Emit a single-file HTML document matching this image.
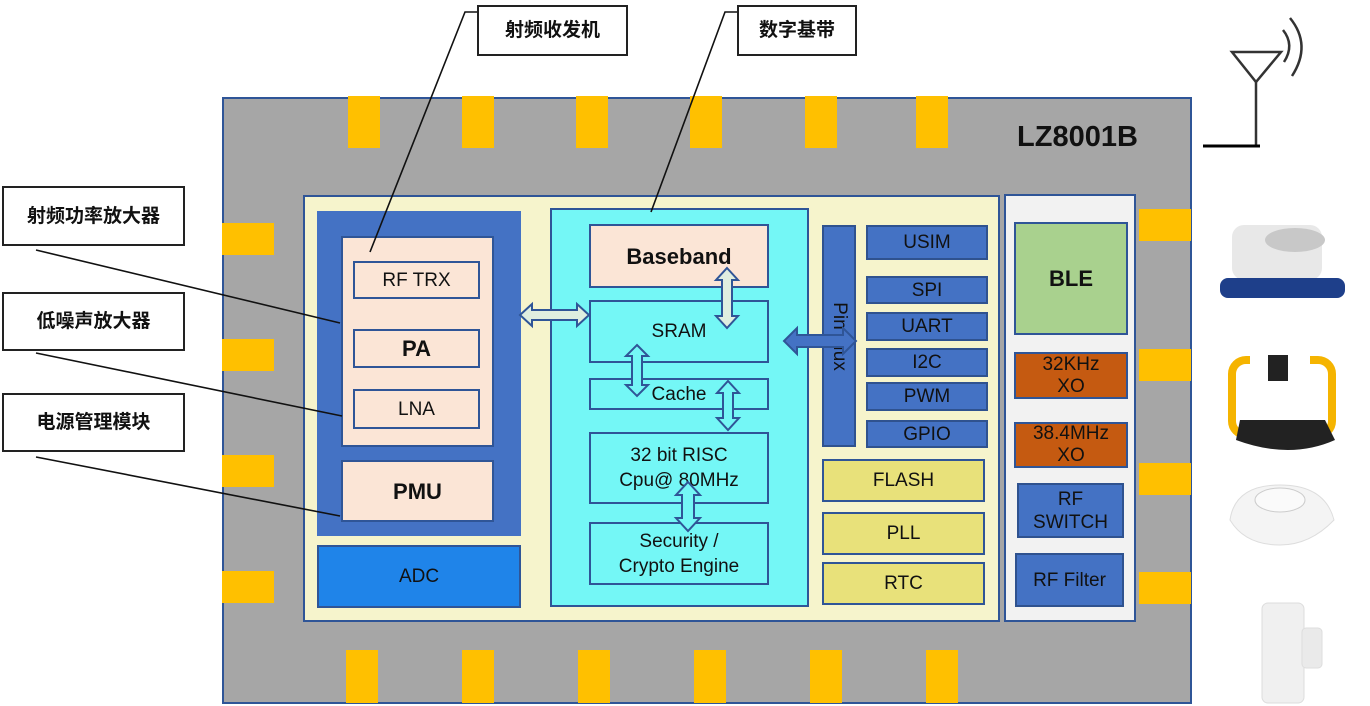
<!DOCTYPE html><html><head><meta charset="utf-8"><style>
body{margin:0;width:1370px;height:706px;background:#fff;position:relative;overflow:hidden;font-family:"Liberation Sans","Noto Sans CJK SC",sans-serif}
.b{position:absolute;box-sizing:border-box;display:flex;align-items:center;justify-content:center;text-align:center;color:#111;font-size:19px;line-height:25px}
.p{position:absolute;background:#ffc000}
.bl{background:#4472c4;border:2px solid #2f528f}
.lb{background:#fff;border:2px solid #222;font-weight:bold;font-size:19px}
</style></head><body>
<div class="b" style="left:222px;top:97px;width:970px;height:607px;background:#a6a6a6;border:2px solid #2f5597"></div>
<div class="p" style="left:348px;top:96px;width:32px;height:52px"></div>
<div class="p" style="left:462px;top:96px;width:32px;height:52px"></div>
<div class="p" style="left:576px;top:96px;width:32px;height:52px"></div>
<div class="p" style="left:690px;top:96px;width:32px;height:52px"></div>
<div class="p" style="left:805px;top:96px;width:32px;height:52px"></div>
<div class="p" style="left:916px;top:96px;width:32px;height:52px"></div>
<div class="p" style="left:346px;top:650px;width:32px;height:53px"></div>
<div class="p" style="left:462px;top:650px;width:32px;height:53px"></div>
<div class="p" style="left:578px;top:650px;width:32px;height:53px"></div>
<div class="p" style="left:694px;top:650px;width:32px;height:53px"></div>
<div class="p" style="left:810px;top:650px;width:32px;height:53px"></div>
<div class="p" style="left:926px;top:650px;width:32px;height:53px"></div>
<div class="p" style="left:222px;top:223px;width:52px;height:32px"></div>
<div class="p" style="left:222px;top:339px;width:52px;height:32px"></div>
<div class="p" style="left:222px;top:455px;width:52px;height:32px"></div>
<div class="p" style="left:222px;top:571px;width:52px;height:32px"></div>
<div class="p" style="left:1139px;top:209px;width:52px;height:32px"></div>
<div class="p" style="left:1139px;top:349px;width:52px;height:32px"></div>
<div class="p" style="left:1139px;top:463px;width:52px;height:32px"></div>
<div class="p" style="left:1139px;top:572px;width:52px;height:32px"></div>
<div class="b" style="left:1005px;top:118px;width:145px;height:38px;font-size:29px;font-weight:bold">LZ8001B</div>
<div class="b" style="left:303px;top:195px;width:697px;height:427px;background:#f6f4cc;border:2px solid #2f5597"></div>
<div class="b" style="left:1004px;top:194px;width:132px;height:428px;background:#f2f2f2;border:2px solid #2f5597"></div>
<div class="b bl" style="left:317px;top:211px;width:204px;height:325px;border:none"></div>
<div class="b" style="left:341px;top:236px;width:153px;height:211px;background:#fbe5d6;border:2px solid #2f5597"></div>
<div class="b" style="left:353px;top:261px;width:127px;height:38px;background:#fbe5d6;border:2px solid #2f5597">RF TRX</div>
<div class="b" style="left:353px;top:329px;width:127px;height:39px;background:#fbe5d6;border:2px solid #2f5597;font-weight:bold;font-size:22px">PA</div>
<div class="b" style="left:353px;top:389px;width:127px;height:40px;background:#fbe5d6;border:2px solid #2f5597">LNA</div>
<div class="b" style="left:341px;top:460px;width:153px;height:62px;background:#fbe5d6;border:2px solid #2f5597;font-weight:bold;font-size:22px">PMU</div>
<div class="b" style="left:317px;top:545px;width:204px;height:63px;background:#1f84e9;border:2px solid #2f5597">ADC</div>
<div class="b" style="left:550px;top:208px;width:259px;height:399px;background:#74f7f6;border:2px solid #2f5597"></div>
<div class="b" style="left:589px;top:224px;width:180px;height:64px;background:#fbe5d6;border:2px solid #2f5597;font-weight:bold;font-size:22px">Baseband</div>
<div class="b" style="left:589px;top:300px;width:180px;height:63px;background:#74f7f6;border:2px solid #2f5597">SRAM</div>
<div class="b" style="left:589px;top:378px;width:180px;height:32px;background:#74f7f6;border:2px solid #2f5597">Cache</div>
<div class="b" style="left:589px;top:432px;width:180px;height:72px;background:#74f7f6;border:2px solid #2f5597">32 bit RISC<br>Cpu@ 80MHz</div>
<div class="b" style="left:589px;top:522px;width:180px;height:63px;background:#74f7f6;border:2px solid #2f5597">Security /<br>Crypto Engine</div>
<div class="b bl" style="left:822px;top:225px;width:34px;height:222px"><span style="transform:rotate(90deg);white-space:nowrap;display:block">Pin Mux</span></div>
<div class="b bl" style="left:866px;top:225px;width:122px;height:35px">USIM</div>
<div class="b bl" style="left:866px;top:276px;width:122px;height:28px">SPI</div>
<div class="b bl" style="left:866px;top:312px;width:122px;height:29px">UART</div>
<div class="b bl" style="left:866px;top:348px;width:122px;height:29px">I2C</div>
<div class="b bl" style="left:866px;top:382px;width:122px;height:29px">PWM</div>
<div class="b bl" style="left:866px;top:420px;width:122px;height:28px">GPIO</div>
<div class="b" style="left:822px;top:459px;width:163px;height:43px;background:#e8e17a;border:2px solid #2f5597">FLASH</div>
<div class="b" style="left:822px;top:512px;width:163px;height:43px;background:#e8e17a;border:2px solid #2f5597">PLL</div>
<div class="b" style="left:822px;top:562px;width:163px;height:43px;background:#e8e17a;border:2px solid #2f5597">RTC</div>
<div class="b" style="left:1014px;top:222px;width:114px;height:113px;background:#a9d18e;border:2px solid #2f5597;font-weight:bold;font-size:22px">BLE</div>
<div class="b" style="left:1014px;top:352px;width:114px;height:47px;background:#c55a11;border:2px solid #2f5597;line-height:22px">32KHz<br>XO</div>
<div class="b" style="left:1014px;top:422px;width:114px;height:46px;background:#c55a11;border:2px solid #2f5597;line-height:22px">38.4MHz<br>XO</div>
<div class="b bl" style="left:1017px;top:483px;width:107px;height:55px;line-height:23px">RF<br>SWITCH</div>
<div class="b bl" style="left:1015px;top:553px;width:109px;height:54px">RF Filter</div>
<div class="b lb" style="left:477px;top:5px;width:151px;height:51px">射频收发机</div>
<div class="b lb" style="left:737px;top:5px;width:120px;height:51px">数字基带</div>
<div class="b lb" style="left:2px;top:186px;width:183px;height:60px">射频功率放大器</div>
<div class="b lb" style="left:2px;top:292px;width:183px;height:59px">低噪声放大器</div>
<div class="b lb" style="left:2px;top:393px;width:183px;height:59px">电源管理模块</div>
<svg style="position:absolute;left:0;top:0" width="1370" height="706">
<g stroke="#111" stroke-width="1.6" fill="none">
<polyline points="477,12 465,12 370,252"/><polyline points="737,12 725,12 651,212"/>
<line x1="36" y1="250" x2="340" y2="323"/><line x1="36" y1="353" x2="342" y2="416"/><line x1="36" y1="457" x2="340" y2="516"/>
</g>
<g stroke="#2f5597" stroke-width="2" fill="#dfeee0">
<polygon points="520,315 532,304 532,310 577,310 577,304 589,315 577,326 577,320 532,320 532,326"/>
<polygon points="727,268 738,280 732,280 732,316 738,316 727,328 716,316 722,316 722,280 716,280"/>
</g>
<g stroke="#2f5597" stroke-width="2" fill="#74f7f6">
<polygon points="637,345 648,356 642,356 642,385 648,385 637,396 626,385 632,385 632,356 626,356"/>
<polygon points="728,381 739,393 733,393 733,418 739,418 728,430 717,418 723,418 723,393 717,393"/>
<polygon points="688,482 700,495 694,495 694,518 700,518 688,531 676,518 682,518 682,495 676,495"/>
</g>
<polygon points="784,341 797,328 797,335 843,335 843,328 856,341 843,354 843,347 797,347 797,354" fill="#4472c4" stroke="#2f5597" stroke-width="2"/>
<g stroke="#333" stroke-width="2.5" fill="none">
<polygon points="1232,52 1281,52 1256,82"/><line x1="1256" y1="82" x2="1256" y2="145"/>
<path d="M1283,30 Q1295,45 1284,62"/><path d="M1290,18 Q1312,45 1292,76"/>
</g>
<line x1="1203" y1="146" x2="1260" y2="146" stroke="#000" stroke-width="3"/>
<rect x="1232" y="225" width="90" height="55" rx="12" fill="#e8e8e8"/>
<ellipse cx="1295" cy="240" rx="30" ry="12" fill="#c8c8c8"/>
<rect x="1220" y="278" width="125" height="20" rx="8" fill="#1e3f8a"/>
<rect x="1232" y="360" width="100" height="75" rx="14" fill="none" stroke="#f5b400" stroke-width="8"/>
<rect x="1250" y="353" width="60" height="35" fill="#fff"/><rect x="1268" y="355" width="20" height="26" fill="#222"/>
<path d="M1240,420 L1325,420 L1335,440 Q1290,460 1236,440 Z" fill="#222"/>
<path d="M1230,520 Q1235,485 1280,485 Q1325,485 1334,520 Q1310,545 1280,545 Q1245,545 1230,520 Z" fill="#f4f4f4" stroke="#ddd"/>
<ellipse cx="1280" cy="500" rx="25" ry="12" fill="#fafafa" stroke="#ccc"/>
<rect x="1262" y="603" width="42" height="100" rx="6" fill="#f0f0f0" stroke="#ddd"/>
<rect x="1302" y="628" width="20" height="40" rx="4" fill="#eaeaea" stroke="#ddd"/>
</svg>
</body></html>
